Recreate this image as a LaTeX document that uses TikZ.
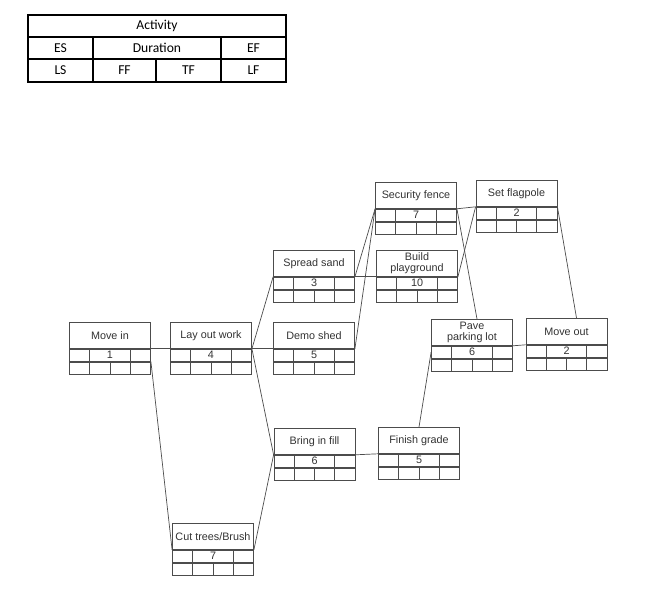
\documentclass[tikz,border=0pt]{standalone}
\usepackage{fontspec}
\setmainfont{Liberation Sans}
\newfontfamily\keyfont{Carlito}
\begin{document}
\begin{tikzpicture}[
        x=1pt, y=-1pt,
        % --- styles ---
        head/.style={draw=black!70, line width=0.8pt, minimum width=81pt, minimum height=26pt,
            inner sep=0pt, anchor=north, align=center, text=black!80,
            font=\fontsize{10.8}{10.5}\selectfont},
        cell/.style={draw=black!70, line width=0.8pt, minimum width=81pt, minimum height=12pt,
            inner sep=0pt, anchor=north, text=black!80, font=\fontsize{10.8}{10}\selectfont},
        grid/.style={draw=black!70, line width=0.8pt},
        link/.style={draw=black!70, line width=0.7pt},
        keyline/.style={line width=1.6pt},
        keytext/.style={font=\keyfont\fontsize{13.6}{13}\selectfont}
        % --------------
    ]
    \useasboundingbox[fill=white] (0,0) rectangle (647,609);

    % key table
    \draw[keyline] (28,15) rectangle (286,82)
        (28,37) -- (286,37) (28,59) -- (286,59)
        (93,37) -- (93,82) (221,37) -- (221,82) (156,59) -- (156,82);
    \node[keytext] (kact) at (157,26) {Activity};
    \node[keytext] (kes)  at (60.5,48) {ES};
    \node[keytext] (kdur) at (157,48) {Duration};
    \node[keytext] (kef)  at (253.5,48) {EF};
    \node[keytext] (kls)  at (60.5,70.5) {LS};
    \node[keytext] (kff)  at (124.5,70.5) {FF};
    \node[keytext] (ktf)  at (188.5,70.5) {TF};
    \node[keytext] (klf)  at (253.5,70.5) {LF};

    % activities: name / x / top / label / duration
    \foreach \n/\x/\y/\txt/\dur in {
        movein/110/322/{Move in}/1,
        layout/211/322/{Lay out work}/4,
        spread/314/250/{Spread sand}/3,
        demo/314/322/{Demo shed}/5,
        fill/314.5/428/{Bring in fill}/6,
        trees/213/523/{Cut trees/Brush}/7,
        fence/416/182/{Security fence}/7,
        play/417/250/{Build\\playground}/10,
        flag/516.5/180/{Set flagpole}/2,
        pave/472/319/{Pave\\parking lot}/6,
        moveout/566.5/318/{Move out}/2,
        grade/419/427/{Finish grade}/5}
    {
        \node[head] (\n) at (\x,\y) {\txt};
        \node[cell] (\n-d) at (\n.south) {\dur};
        \node[cell] (\n-b) at (\n-d.south) {};
        \draw[grid] ([xshift=-20.25pt]\n-d.north) -- ([xshift=-20.25pt]\n-b.south)
            ([xshift=20.25pt]\n-d.north) -- ([xshift=20.25pt]\n-b.south)
            (\n-b.north) -- (\n-b.south);
    }

    % links
    \draw[link] (movein-d.north east) -- (layout-d.north west);
    \draw[link] (movein-d.south east) -- (trees-d.north west);
    \draw[link] (layout-d.north east) -- (spread-d.north west);
    \draw[link] (layout-d.north east) -- (demo-d.north west);
    \draw[link] (layout-d.north east) -- (fill-d.north west);
    \draw[link] (trees-d.north east) -- (fill-d.north west);
    \draw[link] (spread-d.north east) -- (fence-d.north west);
    \draw[link] (spread-d.north east) -- (play-d.north west);
    \draw[link] (demo-d.north east) -- (fence-d.north west);
    \draw[link] (fence-d.north east) -- (flag-d.north west);
    \draw[link] (fence-d.north east) -- ([xshift=5pt]pave.north);
    \draw[link] (play-d.north east) -- (flag-d.north west);
    \draw[link] (fill-d.north east) -- (grade-d.north west);
    \draw[link] (grade.north) -- (pave-d.west);
    \draw[link] (pave-d.north east) -- (moveout-d.north west);
    \draw[link] (flag-d.north east) -- ([xshift=10pt]moveout.north);
\end{tikzpicture}
\end{document}
